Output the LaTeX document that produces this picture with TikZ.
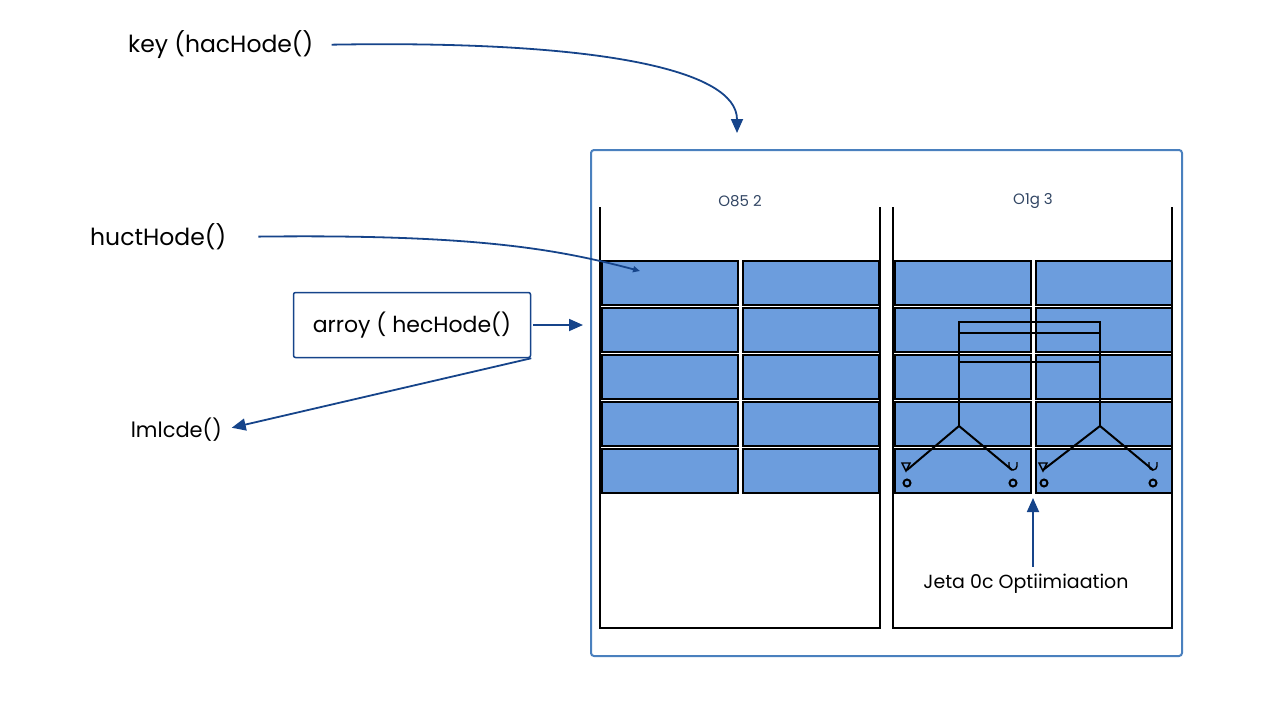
\documentclass[tikz,border=0pt]{standalone}
\usepackage{fontspec}
\setmainfont{Poppins}
\usepackage{xcolor}
\definecolor{azulmarco}{RGB}{74,128,190}
\definecolor{azulflecha}{RGB}{22,68,138}
\definecolor{azulcelda}{RGB}{108,157,221}
\definecolor{grisazul}{RGB}{50,70,100}
\usetikzlibrary{positioning, arrows.meta}

\begin{document}
\begin{tikzpicture}[x=1pt, y=-1pt,
    etiqueta/.style={font=\fontsize{23.5}{27}\selectfont, inner sep=0pt, anchor=west},
    celda/.style={draw=black, line width=1.8pt, fill=azulcelda, minimum width=136pt, minimum height=44pt, inner sep=0pt, anchor=north west},
    flecha/.style={azulflecha, line width=1.8pt, -{Triangle[length=14pt,width=12pt]}},
    flechita/.style={azulflecha, line width=1.8pt, -{Triangle[length=7pt,width=6pt]}},
    linea/.style={black, line width=2pt}]
      \useasboundingbox (0,0) rectangle (1280,720);

      % Marco
      \draw[azulmarco, line width=2pt, rounded corners=3pt] (591,150) rectangle (1182,656);

      % Cubetas
      \draw[linea] (600,207) -- (600,628) -- (880,628) -- (880,207);
      \draw[linea] (893,207) -- (893,628) -- (1172,628) -- (1172,207);
      \node[font=\fontsize{15}{18}\selectfont, text=grisazul] (cub1) at (740,201) {O85 2};
      \node[font=\fontsize{15}{18}\selectfont, text=grisazul] (cub2) at (1033,201) {O1g 3};

      % Celdas
      \foreach \fila/\y in {1/260, 2/307, 3/354, 4/401, 5/448}
        \foreach \col/\x in {a/601, b/742, c/894, d/1035}
          \node[celda] (c-\col\fila) at (\x,\y) {};

      % Arbol
      \draw[linea] (959,426) -- (959,322) -- (1100,322) -- (1100,426);
      \draw[linea] (959,333) -- (1100,333);
      \draw[linea] (959,362) -- (1100,362);
      \draw[linea] (907,470) -- (959,426) -- (1012,470);
      \draw[linea] (1043,470) -- (1100,426) -- (1153,470);
      \foreach \x in {907, 1013, 1044, 1153}
        \draw[linea] (\x,483) circle (3.5);
      \foreach \x in {902, 1039}
        \draw[black, line width=1.4pt] (\x,463) -- (\x+8,463) -- (\x+4,471) -- cycle;
      \foreach \x in {1009, 1149}
        \draw[black, line width=1.4pt] (\x,462) -- (\x,466) arc[start angle=180, end angle=0, radius=4] -- (\x+8,462);

      % Etiquetas
      \node[etiqueta] (llave) at (128,45) {key (hacHode()};
      \node[etiqueta] (huct) at (90,237) {huctHode()};
      \node[etiqueta, font=\fontsize{21}{25}\selectfont, anchor=east] (lmlcde) at (222,430) {lmlcde()};
      \node[draw=azulflecha, line width=1.5pt, rounded corners=2pt, minimum width=237pt, minimum height=65pt,
            font=\fontsize{22}{26}\selectfont] (caja) at (412,325) {arroy ( hecHode()};
      \node[font=\fontsize{19}{22}\selectfont] (jeta) at (1026,584) {Jeta 0c Optiimiaation};

      % Puntos de llegada
      \coordinate (entrada) at (737,133);
      \coordinate (objetivo) at (640,271);
      \coordinate (marco) at (583,325);
      \coordinate (optim) at (1033,498);

      % Flechas
      \draw[flecha, shorten <=18pt] (llave.east) .. controls (600,40) and (737,70) .. (entrada);
      \draw[flechita, shorten <=32pt] (huct.east) .. controls (480,234) and (560,250) .. (objetivo);
      \draw[flecha, shorten <=2pt] (caja.east) -- (marco);
      \draw[flecha, shorten >=10pt] (caja.south east) -- (lmlcde.east);
      \draw[flecha] (jeta.north -| optim) ++(0,-4) -- (optim);
    \end{tikzpicture}
\end{document}
